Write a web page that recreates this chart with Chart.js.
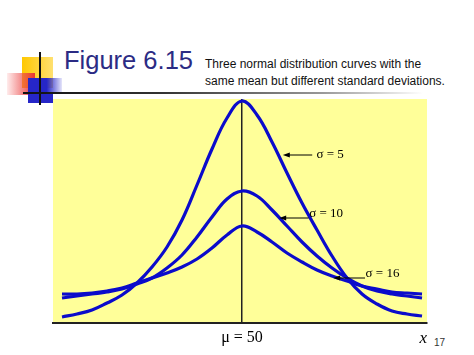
<!DOCTYPE html>
<html>
<head>
<meta charset="utf-8">
<script src="https://cdn.jsdelivr.net/npm/chart.js@4.4.0/dist/chart.umd.min.js"></script>
<style>
html,body{margin:0;padding:0;background:#fff;width:474px;height:355px;overflow:hidden;}
#wrap{position:relative;width:474px;height:355px;}
#c{position:absolute;left:0;top:0;}
.d{position:absolute;}
#title{position:absolute;left:64px;top:47px;font-family:"Liberation Sans",Arial,sans-serif;font-size:25.5px;line-height:26px;color:#2B2B84;white-space:nowrap;}
#sub{position:absolute;left:205px;top:56px;font-family:"Liberation Sans",Arial,sans-serif;font-size:12px;line-height:17px;color:#111;white-space:nowrap;}
#pg{position:absolute;left:434px;top:337px;font-family:"Liberation Sans",Arial,sans-serif;font-size:10px;line-height:12px;color:#333;}
</style>
</head>
<body>
<div id="wrap">
  <div class="d" style="left:22px;top:57px;width:31px;height:31px;background:linear-gradient(to right,#FFC800,#FFE070);"></div>
  <div class="d" style="left:7px;top:73px;width:28px;height:22px;background:linear-gradient(to right,rgba(255,180,180,0.25),#E83434);"></div>
  <div class="d" style="left:28px;top:78px;width:34px;height:15px;background:linear-gradient(to right,#2626C8 0%,#2626C8 55%,rgba(80,80,220,0.15) 100%);"></div>
  <div class="d" style="left:28px;top:93px;width:25px;height:10px;background:#2626C8;"></div>
  <div class="d" style="left:39px;top:52px;width:2px;height:53px;background:#111;"></div>
  <div class="d" style="left:23px;top:92px;width:400px;height:2px;background:linear-gradient(to right,#111 0%,#333 35%,#999 75%,rgba(220,220,220,0) 100%);"></div>
  <div id="title">Figure 6.15</div>
  <div id="sub">Three normal distribution curves with the<br>same mean but different standard deviations.</div>
  <div id="pg">17</div>
  <canvas id="c" width="474" height="355"></canvas>
</div>
<script>
// ---- data (x in value units, heights in arbitrary density units) ----
const xValues = [20,22.5,25,27.5,30,32.5,35,37.5,40,42.5,45,47.5,50,52.5,55,57.5,60,62.5,65,67.5,70,72.5,75,77.5,80];
const sigma5  = [6,9,13,20,28,40,56,76,103,138,174,205,222,208,181,150,120,93,67,45,29,19,12,9,7];
const sigma10 = [25,27,29,31,34,39,45,55,68,86,106,124,132,127,113,97,81,67,55,45,37,32,29,27,25];
const sigma16 = [29,29,30,32,35,40,45,50,56,64,75,88,97,91,81,70,61,53,47,42,37,34,31,30,29];
const seriesNames = ['σ = 5','σ = 10','σ = 16'];
const meanValue = 50;
const tickValues = [50, 80.2];
const tickLabels = ['μ = 50', 'x'];

// label / arrow anchors in data units
const annotations = [
  {text: seriesNames[0], textX: 62.4, textY: 168, lineFrom: 61.7, lineTo: 56.8, lineY: 168},
  {text: seriesNames[1], textX: 61.2, textY: 109, lineFrom: 61.1, lineTo: 56.2, lineY: 105},
  {text: seriesNames[2], textX: 70.6, textY: 49,  lineFrom: 70.5, lineTo: 65.2, lineY: 45}
];

const toPoints = arr => arr.map((v, i) => ({x: xValues[i], y: v}));

const bgPlugin = {
  id: 'bg',
  beforeDraw(chart) {
    const {ctx, chartArea: a} = chart;
    ctx.save();
    ctx.fillStyle = '#FFFF99';
    ctx.fillRect(a.left, a.top, a.right - a.left, a.bottom - a.top);
    ctx.restore();
  }
};

const labelPlugin = {
  id: 'sigmaLabels',
  afterDatasetsDraw(chart) {
    const xs = chart.scales.x, ys = chart.scales.y, ctx = chart.ctx;
    ctx.save();
    ctx.font = '13px "Liberation Serif", "Times New Roman", serif';
    ctx.fillStyle = '#000';
    ctx.strokeStyle = '#000';
    ctx.lineWidth = 1;
    ctx.textBaseline = 'middle';
    ctx.textAlign = 'left';
    for (const a of annotations) {
      const x0 = xs.getPixelForValue(a.lineFrom);
      const x1 = xs.getPixelForValue(a.lineTo);
      const ly = ys.getPixelForValue(a.lineY);
      ctx.beginPath();
      ctx.moveTo(x0, ly);
      ctx.lineTo(x1 + 5, ly);
      ctx.stroke();
      ctx.beginPath();
      ctx.moveTo(x1, ly);
      ctx.lineTo(x1 + 7, ly - 2.5);
      ctx.lineTo(x1 + 7, ly + 2.5);
      ctx.closePath();
      ctx.fill();
      ctx.fillText(a.text, xs.getPixelForValue(a.textX), ys.getPixelForValue(a.textY));
    }
    ctx.restore();
  }
};

const curveStyle = {borderColor: '#0B0BCB', borderWidth: 3.2, pointRadius: 0, fill: false, tension: 0.4};

new Chart(document.getElementById('c'), {
  type: 'line',
  data: {
    datasets: [
      Object.assign({label: seriesNames[0], data: toPoints(sigma5)}, curveStyle),
      Object.assign({label: seriesNames[1], data: toPoints(sigma10)}, curveStyle),
      Object.assign({label: seriesNames[2], data: toPoints(sigma16)}, curveStyle)
    ]
  },
  options: {
    responsive: false,
    animation: false,
    devicePixelRatio: 1,
    layout: {padding: {left: 53, right: 47, top: 99, bottom: 0}},
    plugins: {legend: {display: false}, tooltip: {enabled: false}, title: {display: false}},
    scales: {
      x: {
        type: 'linear',
        min: 18.5,
        max: 80.83,
        afterBuildTicks: s => { s.ticks = tickValues.map(v => ({value: v})); },
        afterFit: s => { s.height = 32; },
        ticks: {
          autoSkip: false,
          maxRotation: 0,
          padding: 5,
          color: '#000',
          font: ctx => (ctx.tick && ctx.tick.value !== meanValue)
            ? {family: '"Liberation Serif", "Times New Roman", serif', size: 17, style: 'italic'}
            : {family: '"Liberation Serif", "Times New Roman", serif', size: 16},
          callback: (v, i) => tickLabels[i]
        },
        grid: {
          drawTicks: false,
          color: ctx => (ctx.tick && ctx.tick.value === meanValue) ? '#222' : 'rgba(0,0,0,0)',
          lineWidth: 1.5
        },
        border: {display: true, color: '#222', width: 2}
      },
      y: {display: false, min: 0, max: 224}
    }
  },
  plugins: [bgPlugin, labelPlugin]
});
</script>
</body>
</html>
